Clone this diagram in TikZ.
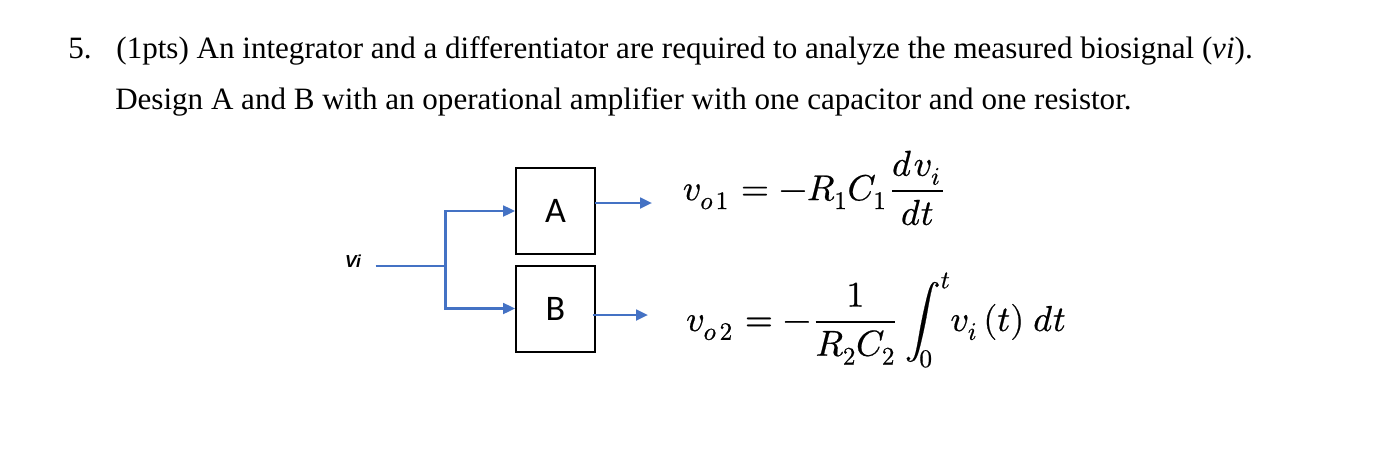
\documentclass[tikz,border=0pt]{standalone}
\usepackage{amsmath}
\usepackage{fontspec}
\usepackage{unicode-math}
\setmainfont{Liberation Serif}
\setmathfont[FakeBold=0.6]{Latin Modern Math}
\newfontfamily\blockfont{Carlito}
\newfontfamily\labelfont{Liberation Sans}
\usetikzlibrary{arrows.meta}
\definecolor{wireblue}{HTML}{4472C4}
\tikzset{
 px/.style={x=0.75pt,y=-0.75pt},
 blockbox/.style={draw=black,line width=1.5pt,minimum width=59pt,minimum height=64.5pt,inner sep=0pt,font=\blockfont\fontsize{27}{27}\selectfont},
 wire/.style={draw=wireblue,line width=2pt},
 wirearrow/.style={wire,-{Stealth[length=9pt,width=8pt,inset=0pt]}},
 txt/.style={anchor=base west,inner sep=0pt,font=\fontsize{23.3}{26}\selectfont},
 eqn/.style={anchor=center,inner sep=0pt,font=\fontsize{27}{30}\selectfont}
}
\begin{document}
\begin{tikzpicture}[px]
\useasboundingbox (0,0) rectangle (1384,450);
\node[txt] (line1) at (68,58) {5.\hspace{0.8em}(1pts) An integrator and a differentiator are required to analyze the measured biosignal (\textit{vi}).};
\node[txt] (line2) at (115,109) {Design A and B with an operational amplifier with one capacitor and one resistor.};
\node[blockbox] (A) at (555.5,211) {A};
\node[blockbox] (B) at (555.5,308.5) {B};
\node[inner sep=0pt,font=\labelfont\bfseries\itshape\fontsize{13}{13}\selectfont] (vi) at (353,261) {Vi};
\coordinate (start) at (375.5,266);
\coordinate (junc) at (445.5,266);
\coordinate (outAs) at (595,203);
\coordinate (outA) at (652,203);
\coordinate (outBs) at (592.5,315);
\coordinate (outB) at (648,315);
\draw[wire] (start) -- (junc);
\draw[wirearrow] (junc) |- (A.west);
\draw[wirearrow] (junc) |- (B.west);
\draw[wirearrow] (outAs) -- (outA);
\draw[wirearrow] (outBs) -- (outB);
\node[eqn] (eq1) at (813.5,188) {$v_{o\mkern2mu1}\mkern1mu = -R_1C_1\mkern2mu\dfrac{d\mkern1mu v_i\mkern1mu}{dt}$};
\node[eqn] (eq2) at (876,320) {$v_{o\mkern2.5mu2}\mkern1mu = -\mkern1.5mu\dfrac{1}{R_2C_2}\mkern1mu\displaystyle\int_0^t\mkern-3mu v_i\mkern3mu(t)\mkern1.5mu\,dt$};
\end{tikzpicture}
\end{document}
